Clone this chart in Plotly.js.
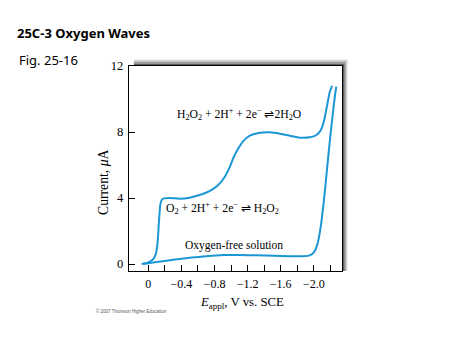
<!DOCTYPE html>
<html>
<head>
<meta charset="utf-8">
<script src="https://cdn.plot.ly/plotly-3.0.1.min.js"></script>
<style>html,body{margin:0;padding:0;background:#fff;}#chart{width:474px;height:355px;}</style>
</head>
<body>
<div id="chart"></div>
<script>
// O2-containing solution
const oxyE = [0.08, 0.0, -0.06, -0.093, -0.113, -0.129, -0.145, -0.161, -0.19, -0.26, -0.38, -0.50, -0.62, -0.74, -0.845, -0.925, -0.986, -1.034, -1.087, -1.147, -1.227, -1.348, -1.469, -1.59, -1.71, -1.83, -1.95, -2.032, -2.085, -2.125, -2.161, -2.193, -2.221];
const oxyI = [0.0, 0.1, 0.3, 0.65, 1.35, 2.57, 3.58, 3.88, 3.98, 4.0, 3.96, 4.02, 4.18, 4.42, 4.79, 5.29, 5.9, 6.5, 7.0, 7.45, 7.78, 7.96, 7.98, 7.9, 7.78, 7.66, 7.68, 7.82, 8.12, 8.73, 9.64, 10.44, 10.8];
// Oxygen-free solution
const freeE = [0.06, -0.10, -0.30, -0.50, -0.70, -0.905, -1.107, -1.31, -1.51, -1.71, -1.87, -1.95, -2.0, -2.04, -2.08, -2.12, -2.16, -2.2, -2.24, -2.27];
const freeI = [0.0, 0.12, 0.26, 0.38, 0.48, 0.55, 0.55, 0.53, 0.5, 0.48, 0.48, 0.53, 0.71, 1.15, 2.16, 3.78, 5.8, 7.8, 9.6, 10.75];

const xTickVals = [0, -0.2, -0.4, -0.6, -0.8, -1.0, -1.2, -1.4, -1.6, -1.8, -2.0, -2.2];
const xTickText = ['0', '', '\u22120.4', '', '\u22120.8', '', '\u22121.2', '', '\u22121.6', '', '\u22122.0', ''];
const yTickVals = [0, 4, 8, 12];
const yTickText = ['0', '4', '8', '12'];

const lineColor = '#1c97d6';
const serif = 'Liberation Serif, Times New Roman, serif';

const traces = [
  {x: oxyE, y: oxyI, mode: 'lines', line: {color: lineColor, width: 2, shape: 'spline', smoothing: 0.6}, hoverinfo: 'skip'},
  {x: freeE, y: freeI, mode: 'lines', line: {color: lineColor, width: 2, shape: 'spline', smoothing: 0.6}, hoverinfo: 'skip'}
];

function band(x0, x1, y0, y1, c) {
  return {type: 'rect', xref: 'paper', yref: 'paper', x0: x0, x1: x1, y0: y0, y1: y1, fillcolor: c, line: {width: 0}, layer: 'below'};
}
// pixel -> paper helpers (plot area: x 129..342, y 66..271)
function px(x) { return (x - 129) / 213; }
function py(y) { return (271 - y) / 205; }

const layout = {
  width: 474, height: 355,
  margin: {l: 129, r: 132, t: 66, b: 84},
  paper_bgcolor: '#fff', plot_bgcolor: '#fff',
  showlegend: false,
  title: {text: '<b>25C-3 Oxygen Waves</b>', x: 17/474, xanchor: 'left', xref: 'container', y: 1 - 33/355, yanchor: 'middle', yref: 'container',
          font: {family: 'Noto Sans, Open Sans, sans-serif', size: 13, color: '#000'}},
  xaxis: {
    range: [0.233, -2.34], tickmode: 'array', tickvals: xTickVals, ticktext: xTickText,
    ticks: 'inside', ticklen: 6, tickcolor: '#000', tickwidth: 1,
    showline: true, mirror: true, linecolor: '#000', linewidth: 1.2,
    showgrid: false, zeroline: false, ticklabelstandoff: 1,
    tickfont: {family: serif, size: 12, color: '#000'}
  },
  yaxis: {
    range: [-0.42, 12.0], tickmode: 'array', tickvals: yTickVals, ticktext: yTickText,
    ticks: 'inside', ticklen: 6, tickcolor: '#000', tickwidth: 1,
    showline: true, mirror: true, linecolor: '#000', linewidth: 1.2,
    showgrid: false, zeroline: false, ticklabelstandoff: 2,
    tickfont: {family: serif, size: 12.5, color: '#000'}
  },
  shapes: [
    band(0.023, 1.025, 1.0, 1.031, '#d4d4d4'),
    band(0.023, 1.022, 1.0, 1.021, '#9a9a9a'),
    band(0.023, 1.018, 1.0, 1.010, '#5e5e5e'),
    band(1.0, 1.025, 0.0, 1.031, '#d4d4d4'),
    band(1.0, 1.018, 0.0, 1.021, '#9a9a9a'),
    band(1.0, 1.010, 0.0, 1.010, '#5e5e5e')
  ],
  annotations: [
    {text: 'Fig. 25-16', xref: 'paper', yref: 'paper', x: px(17), y: py(60), xanchor: 'left', yanchor: 'middle', showarrow: false,
     font: {family: 'Noto Sans, Open Sans, sans-serif', size: 13, color: '#000'}},
    {text: 'Current, <i>\u03bc</i>A', xref: 'paper', yref: 'paper', x: px(103), y: py(182), xanchor: 'center', yanchor: 'middle', textangle: -90, showarrow: false,
     font: {family: serif, size: 13.7, color: '#000'}},
    {text: '<i>E</i><sub>appl</sub>, V vs. SCE', xref: 'paper', yref: 'paper', x: px(242), y: py(303), xanchor: 'center', yanchor: 'middle', showarrow: false,
     font: {family: serif, size: 12.8, color: '#000'}},
    {text: 'H<sub>2</sub>O<sub>2</sub> + 2H<sup>+</sup> + 2e<sup>\u2212</sup> \u21cc2H<sub>2</sub>O', x: -1.095, y: 9.09, xanchor: 'center', yanchor: 'middle', showarrow: false,
     font: {family: serif, size: 11.7, color: '#000'}},
    {text: 'O<sub>2</sub> + 2H<sup>+</sup> + 2e<sup>\u2212</sup> \u21cc H<sub>2</sub>O<sub>2</sub>', x: -0.892, y: 3.39, xanchor: 'center', yanchor: 'middle', showarrow: false,
     font: {family: serif, size: 11.7, color: '#000'}},
    {text: 'Oxygen-free solution', x: -1.037, y: 1.1, xanchor: 'center', yanchor: 'middle', showarrow: false,
     font: {family: serif, size: 11.5, color: '#000'}},
    {text: '\u00a9 2007 Thomson Higher Education', xref: 'paper', yref: 'paper', x: px(94), y: py(311), xanchor: 'left', yanchor: 'middle', showarrow: false,
     font: {family: 'Liberation Sans, Arial, sans-serif', size: 4.5, color: '#555'}}
  ]
};

Plotly.newPlot('chart', traces, layout, {staticPlot: true, displayModeBar: false});
</script>
</body>
</html>
